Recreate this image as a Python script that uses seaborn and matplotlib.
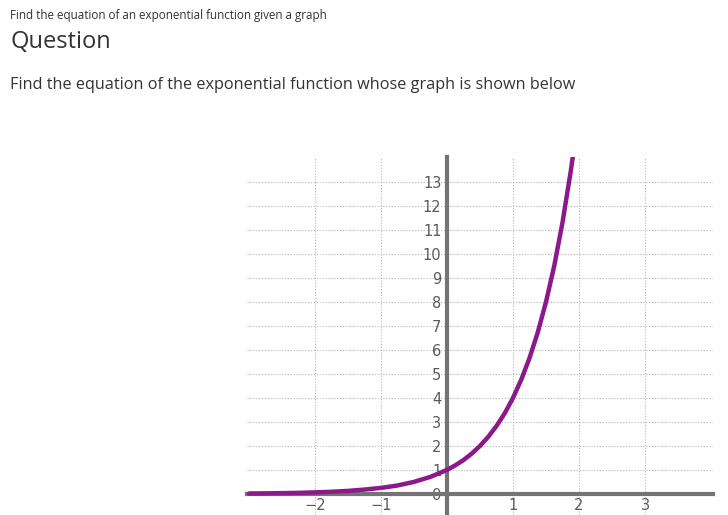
import seaborn as sns
import numpy as np
import pandas as pd
import matplotlib.pyplot as plt

# points
curve_x = [-3.0, -2.75, -2.5, -2.25, -2.0, -1.75, -1.5, -1.25, -1.0, -0.75, -0.5, -0.25,
           0.0, 0.125, 0.25, 0.375, 0.5, 0.625, 0.75, 0.875, 1.0, 1.125, 1.25, 1.375,
           1.5, 1.625, 1.75, 1.875, 1.95]
curve_y = [0.016, 0.022, 0.031, 0.044, 0.063, 0.088, 0.125, 0.18, 0.25, 0.35, 0.5, 0.71,
           1.0, 1.19, 1.41, 1.68, 2.0, 2.38, 2.83, 3.36, 4.0, 4.76, 5.66, 6.73,
           8.0, 9.51, 11.31, 13.45, 14.9]

x_ticks = [-2, -1, 1, 2, 3]
y_ticks = list(range(0, 14))

header = 'Find the equation of an exponential function given a graph'
title = 'Question'
prompt = 'Find the equation of the exponential function whose graph is shown below'

df = pd.DataFrame({'x': curve_x, 'y': curve_y})

sns.set_style('white')
plt.rcParams['font.family'] = ['DejaVu Sans']

fig = plt.figure(figsize=(7.28, 5.15), dpi=100)
ax = fig.add_axes([247 / 728, 0, 466 / 728, 358 / 515])

sns.lineplot(data=df, x='x', y='y', ax=ax, color='#8b198b', linewidth=3.2, zorder=5)

ax.set_xlim(-3.03, 4.03)
ax.set_ylim(-0.88, 14.04)
ax.set_xticks(x_ticks)
ax.set_yticks(y_ticks)
ax.set_xlabel('')
ax.set_ylabel('')

# axes through the origin
for side in ['top', 'right']:
    ax.spines[side].set_visible(False)
ax.spines['left'].set_position(('data', 0))
ax.spines['bottom'].set_position(('data', 0))
for side in ['left', 'bottom']:
    ax.spines[side].set_linewidth(3.0)
    ax.spines[side].set_color('#747474')
    ax.spines[side].set_zorder(3)

ax.tick_params(axis='both', direction='inout', length=6, width=1, color='#777777',
               labelcolor='#5a5a5a', labelsize=10.5)
ax.tick_params(axis='x', pad=0)
ax.tick_params(axis='y', pad=1)

ax.grid(True, linestyle=(0, (1, 1.6)), color='#b4b4b4', linewidth=0.8)
ax.set_axisbelow(True)

fig.text(10 / 728, 1 - 16 / 515, header, fontsize=8.4, color='#333333',
         family='Open Sans', va='center', ha='left')
fig.text(10 / 728, 1 - 42 / 515, title, fontsize=17, color='#333333',
         family='Open Sans', va='center', ha='left')
fig.text(10 / 728, 1 - 85 / 515, prompt, fontsize=11.7, color='#333333',
         family='Open Sans', va='center', ha='left')

fig.savefig('out.png', dpi=100)
